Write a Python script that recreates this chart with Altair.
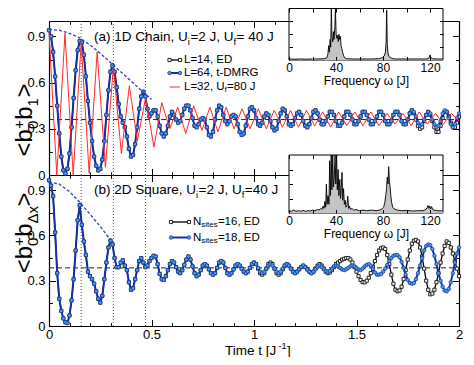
import altair as alt
import numpy as np
import pandas as pd

W, H = 458, 349
FONT = "Liberation Sans"
DT = 0.01

# ---------------- data ----------------
# panel (a) L=64 t-DMRG, sampled every 0.01 J^-1
blue_a = [
    0.94, 0.90, 0.80, 0.64, 0.45, 0.27, 0.12, 0.03, 0.01, 0.04,
    0.14, 0.31, 0.50, 0.68, 0.81, 0.87, 0.86, 0.78, 0.64, 0.48,
    0.34, 0.22, 0.12, 0.06, 0.03, 0.04, 0.10, 0.22, 0.39, 0.55,
    0.67, 0.71, 0.67, 0.57, 0.46, 0.38, 0.34, 0.31, 0.25, 0.17,
    0.12, 0.13, 0.20, 0.31, 0.43, 0.51, 0.54, 0.51, 0.43, 0.38,
    0.40, 0.42, 0.42, 0.38, 0.32, 0.27, 0.25, 0.27, 0.32, 0.38,
    0.41, 0.39, 0.36, 0.34, 0.35, 0.39, 0.43, 0.45, 0.45, 0.42,
    0.37, 0.32, 0.31, 0.33, 0.36, 0.37, 0.36, 0.31, 0.26, 0.25,
    0.28, 0.36, 0.42, 0.45, 0.44, 0.39, 0.35, 0.33, 0.35, 0.38,
    0.39, 0.38, 0.33, 0.28, 0.26, 0.27, 0.32, 0.38, 0.43, 0.44,
    0.42, 0.37, 0.33, 0.32, 0.34, 0.38, 0.40, 0.39, 0.35, 0.31,
    0.29, 0.30, 0.35, 0.40, 0.43, 0.42, 0.38, 0.33, 0.32, 0.33,
    0.37, 0.40, 0.41, 0.39, 0.35, 0.32, 0.31, 0.33, 0.37, 0.41,
    0.42, 0.40, 0.36, 0.33, 0.33, 0.35, 0.38, 0.41, 0.41, 0.39,
    0.35, 0.32, 0.32, 0.34, 0.38, 0.41, 0.41, 0.39, 0.36, 0.33,
    0.33, 0.35, 0.38, 0.41, 0.41, 0.39, 0.36, 0.33, 0.33, 0.35,
    0.38, 0.41, 0.41, 0.39, 0.35, 0.33, 0.33, 0.35, 0.39, 0.41,
    0.41, 0.39, 0.35, 0.33, 0.33, 0.36, 0.40, 0.42, 0.41, 0.38,
    0.34, 0.32, 0.33, 0.36, 0.39, 0.41, 0.40, 0.36, 0.33, 0.31,
    0.32, 0.35, 0.40, 0.42, 0.41, 0.37, 0.33, 0.31, 0.33, 0.37,
    0.40,
]
# panel (a) L=14 ED: same as DMRG up to t=1.75, then these values (t=1.76..2.00)
black_a_tail = [
    0.40, 0.42, 0.40, 0.36, 0.32, 0.30, 0.31, 0.35, 0.39, 0.41,
    0.39, 0.35, 0.31, 0.28, 0.28, 0.32, 0.37, 0.41, 0.41, 0.38,
    0.34, 0.31, 0.31, 0.34, 0.38,
]
# panel (a) L=32, U_f=80 J (turning points)
red_t = [0.000, 0.038, 0.078, 0.118, 0.157, 0.196, 0.235, 0.275, 0.314, 0.353,
         0.392, 0.431, 0.471, 0.512, 0.550, 0.589, 0.628, 0.667, 0.706, 0.746,
         0.785, 0.824, 0.864, 0.903, 0.942, 0.981, 1.021, 1.060, 1.099, 1.139,
         1.178, 1.217, 1.256, 1.296, 1.335, 1.374, 1.413, 1.453, 1.492, 1.531,
         1.570, 1.610, 1.649, 1.688, 1.727, 1.767, 1.806, 1.845, 1.885, 1.924,
         1.963, 2.000]
red_v = [0.93, 0.00, 0.92, 0.00, 0.86, 0.01, 0.80, 0.05, 0.70, 0.14,
         0.58, 0.22, 0.50, 0.18, 0.47, 0.30, 0.44, 0.27, 0.45, 0.29,
         0.44, 0.28, 0.44, 0.30, 0.43, 0.30, 0.43, 0.30, 0.42, 0.31,
         0.42, 0.31, 0.42, 0.32, 0.41, 0.31, 0.41, 0.32, 0.41, 0.32,
         0.41, 0.32, 0.40, 0.33, 0.40, 0.32, 0.41, 0.33, 0.40, 0.33,
         0.40, 0.35]
# panel (b) N_sites=18 ED, every 0.01
blue_b = [
    0.965, 0.93, 0.86, 0.62, 0.35, 0.18, 0.10, 0.05, 0.025, 0.02,
    0.07, 0.17, 0.31, 0.50, 0.70, 0.80, 0.67, 0.56, 0.47, 0.36,
    0.33, 0.31, 0.28, 0.23, 0.18, 0.155, 0.20, 0.31, 0.42, 0.52,
    0.565, 0.54, 0.45, 0.39, 0.39, 0.42, 0.435, 0.40, 0.37, 0.29,
    0.24, 0.25, 0.31, 0.37, 0.43, 0.45, 0.42, 0.39, 0.40, 0.43,
    0.45, 0.465, 0.46, 0.41, 0.345, 0.31, 0.305, 0.33, 0.37, 0.41,
    0.43, 0.42, 0.39, 0.36, 0.35, 0.37, 0.405, 0.44, 0.46, 0.44,
    0.395, 0.35, 0.33, 0.34, 0.37, 0.40, 0.41, 0.40, 0.375, 0.35,
    0.34, 0.35, 0.385, 0.42, 0.43, 0.42, 0.385, 0.35, 0.34, 0.35,
    0.375, 0.40, 0.41, 0.40, 0.38, 0.36, 0.35, 0.36, 0.385, 0.41,
    0.42, 0.41, 0.385, 0.36, 0.35, 0.36, 0.38, 0.40, 0.41, 0.40,
    0.38, 0.36, 0.35, 0.36, 0.38, 0.40, 0.41, 0.40, 0.38, 0.36,
    0.35, 0.36, 0.375, 0.39, 0.40, 0.39, 0.375, 0.36, 0.35, 0.36,
    0.375, 0.39, 0.40, 0.39, 0.38, 0.365, 0.36, 0.365, 0.38, 0.395,
    0.40, 0.395, 0.385, 0.375, 0.37, 0.375, 0.385, 0.395, 0.40, 0.395,
    0.385, 0.375, 0.37, 0.38, 0.395, 0.405, 0.41, 0.40, 0.38, 0.355,
    0.34, 0.34, 0.345, 0.36, 0.38, 0.405, 0.43, 0.45, 0.465, 0.47,
    0.47, 0.455, 0.425, 0.385, 0.34, 0.305, 0.285, 0.28, 0.285, 0.31,
    0.35, 0.40, 0.45, 0.50, 0.53, 0.54, 0.535, 0.51, 0.465, 0.41,
    0.35, 0.30, 0.26, 0.235, 0.23, 0.245, 0.29, 0.35, 0.42, 0.48,
    0.52,
]
# panel (b) N_sites=16 ED: same as 18 up to t=0.99, then these (t=1.00..2.00)
black_b_tail = [
    0.42, 0.41, 0.38, 0.35, 0.34, 0.35, 0.38, 0.41, 0.42, 0.41,
    0.38, 0.35, 0.34, 0.35, 0.375, 0.40, 0.41, 0.40, 0.38, 0.36,
    0.35, 0.36, 0.375, 0.39, 0.40, 0.39, 0.375, 0.36, 0.35, 0.36,
    0.38, 0.40, 0.41, 0.40, 0.38, 0.36, 0.35, 0.355, 0.37, 0.39,
    0.41, 0.42, 0.43, 0.44, 0.445, 0.45, 0.45, 0.44, 0.42, 0.39,
    0.36, 0.33, 0.305, 0.29, 0.29, 0.30, 0.32, 0.35, 0.39, 0.43,
    0.47, 0.50, 0.515, 0.52, 0.51, 0.47, 0.41, 0.34, 0.28, 0.24,
    0.23, 0.235, 0.26, 0.31, 0.37, 0.44, 0.50, 0.545, 0.565, 0.57,
    0.56, 0.52, 0.46, 0.38, 0.30, 0.24, 0.21, 0.215, 0.24, 0.29,
    0.35, 0.42, 0.48, 0.53, 0.56, 0.55, 0.52, 0.48, 0.43, 0.38,
    0.33,
]
env_a_t = [0, 0.05, 0.10, 0.15, 0.20, 0.25, 0.30, 0.35, 0.40, 0.45, 0.50]
env_a_v = [0.945, 0.94, 0.92, 0.89, 0.845, 0.79, 0.73, 0.67, 0.61, 0.55, 0.49]
env_b_t = [0, 0.05, 0.10, 0.15, 0.20, 0.25, 0.30]
env_b_v = [0.955, 0.94, 0.89, 0.82, 0.74, 0.66, 0.57]
vline_t = [0.157, 0.314, 0.471]
hline_a = 0.36
hline_b = 0.385

# inset spectra (frequency, amplitude in units of inset height)
specA_w = [0, 5, 10, 15, 20, 25, 30, 32, 33, 33.8, 34.3, 35, 35.5, 36, 36.6, 37.2,
           37.8, 38.3, 39, 39.5, 40.1, 40.7, 41.3, 41.9, 42.5, 43.1, 43.7, 44.3,
           45, 45.7, 46.5, 47.5, 49, 55, 60, 70, 76, 79, 81, 82, 82.6, 83.1, 83.6,
           84.2, 85, 87, 90, 100, 110, 117, 119, 120, 120.6, 122, 126, 131]
specA_a = [0.02, 0.015, 0.02, 0.015, 0.02, 0.02, 0.025, 0.04, 0.10, 0.28, 0.15, 0.40,
           0.25, 1.4, 0.45, 0.35, 0.55, 0.40, 0.65, 1.4, 0.50, 0.42, 0.48, 0.36,
           0.50, 0.40, 0.46, 0.28, 0.22, 0.14, 0.08, 0.04, 0.025, 0.02, 0.02, 0.02,
           0.025, 0.04, 0.08, 0.15, 0.35, 0.97, 0.30, 0.14, 0.07, 0.035, 0.02, 0.02,
           0.02, 0.02, 0.04, 0.10, 0.05, 0.025, 0.02, 0.02]
specB_w = [0, 2, 4, 6, 8, 10, 12, 14, 16, 18, 20, 22, 24, 25.5, 27, 28, 29, 29.8,
           30.5, 31.2, 31.8, 32.4, 33.2, 34, 34.6, 35.2, 35.9, 36.5, 37.2, 37.8,
           38.5, 39.2, 39.8, 40.5, 41.1, 41.8, 42.4, 43.2, 43.8, 44.5, 45.1, 45.7,
           46.4, 47.1, 47.8, 48.4, 49.2, 50, 50.7, 51.5, 52.3, 53.5, 55, 57, 60,
           63, 66, 70, 74, 77, 79, 80.5, 81.5, 82.3, 83, 83.6, 84.2, 84.8, 85.4,
           86, 86.6, 87.3, 88.2, 89.5, 92, 96, 100, 105, 110, 114, 116.5, 117.5,
           118.3, 119, 119.7, 120.5, 121.3, 122.2, 123.5, 126, 131]
specB_a = [0.04, 0.03, 0.05, 0.03, 0.04, 0.03, 0.045, 0.03, 0.04, 0.035, 0.05, 0.04,
           0.06, 0.05, 0.08, 0.06, 0.12, 0.08, 0.20, 0.10, 0.50, 0.15, 0.30, 0.15,
           0.90, 0.30, 1.4, 0.40, 1.4, 0.45, 0.60, 1.4, 0.50, 1.2, 0.40, 0.75,
           0.30, 0.58, 0.25, 0.45, 0.70, 0.22, 0.42, 0.15, 0.22, 0.10, 0.12, 0.29,
           0.08, 0.12, 0.06, 0.08, 0.05, 0.06, 0.04, 0.05, 0.04, 0.05, 0.04, 0.05,
           0.07, 0.10, 0.18, 0.30, 0.42, 0.62, 0.50, 0.80, 0.55, 0.45, 0.30, 0.18,
           0.10, 0.07, 0.05, 0.04, 0.045, 0.035, 0.04, 0.04, 0.06, 0.09, 0.13,
           0.08, 0.12, 0.07, 0.11, 0.06, 0.05, 0.04, 0.035]

x_major = [0, 0.5, 1, 1.5, 2]
x_minor = [0.1, 0.2, 0.3, 0.4, 0.6, 0.7, 0.8, 0.9, 1.1, 1.2, 1.3, 1.4,
           1.6, 1.7, 1.8, 1.9]
y_major = [0, 0.3, 0.6, 0.9]
y_minor = [0.15, 0.45, 0.75]
w_labels = [0, 40, 80, 120]
w_ticks = [0, 20, 40, 60, 80, 100, 120]
a_ticks = [0.25, 0.5, 0.75]

# ---------------- layout (pixel ranges in the canvas) ----------------
XM_R = [41, 451]
YA_R = [167, 13]
YB_R = [318, 167]
XI_R = [281, 435]
YIA_R = [52, 0.5]
YIB_R = [205, 147]


def S(dom, rng, clamp=False):
    return alt.Scale(domain=dom, range=rng, nice=False, zero=False, clamp=clamp)


def XM(): return S([0, 2], XM_R)
def YA(): return S([0, 1], YA_R)
def YB(): return S([0, 1], YB_R)
def XI(): return S([0, 131], XI_R)
def YIA(): return S([0, 1], YIA_R, True)
def YIB(): return S([0, 1], YIB_R, True)


dummy = pd.DataFrame({"v": [0.0]})


def ax(orient, offset, values, size=0, labels=False, domain=False, z=0, **kw):
    d = dict(orient=orient, offset=offset, values=values, grid=False,
             domain=domain, domainColor="black", domainWidth=1.2,
             ticks=size > 0, labels=labels, title="", zindex=z,
             labelFont=FONT, labelColor="black", labelFlush=False,
             labelOverlap=False)
    if size > 0:
        d.update(tickSize=size, tickColor="black", tickWidth=1)
    d.update(kw)
    return alt.Axis(**d)


def axl(xs, ys, xaxis=None, yaxis=None):
    return alt.Chart(dummy).mark_point(opacity=0).encode(
        x=alt.X("v:Q", scale=xs, axis=xaxis),
        y=alt.Y("v:Q", scale=ys, axis=yaxis))


layers = []
XB = XM_R[1]
XL = XM_R[0]
YBOT = YB_R[0]
YMID = YA_R[0]
YTOP = YA_R[1]

# main x axes
layers.append(axl(XM(), YB(), ax("bottom", -(H - YBOT), x_major, labels=True,
                                 labelFontSize=13, labelPadding=2, format="~g")))
for yy, up, dom in [(YBOT, True, True), (YMID, True, True), (YMID, False, False), (YTOP, False, True)]:
    orient = "top" if up else "bottom"
    off = -yy if up else -(H - yy)
    layers.append(axl(XM(), YA(), ax(orient, off, x_major, size=6.5, domain=dom)))
    layers.append(axl(XM(), YA(), ax(orient, off, x_minor, size=3.3)))

# main y axes
lab_expr = "datum.value == 0 ? '0' : format(datum.value, '.1f')"
for ysf in (YA, YB):
    layers.append(axl(XM(), ysf(), None, ax("left", -XL, y_major, labels=True, labelFontSize=13,
                                            labelPadding=4, labelExpr=lab_expr)))
    layers.append(axl(XM(), ysf(), None, ax("right", -(W - XL), y_major, size=6.5, domain=True)))
    layers.append(axl(XM(), ysf(), None, ax("right", -(W - XL), y_minor, size=3.3)))
    layers.append(axl(XM(), ysf(), None, ax("left", -XB, y_major, size=6.5, domain=True)))
    layers.append(axl(XM(), ysf(), None, ax("left", -XB, y_minor, size=3.3)))

# reference lines
for ysf, hv in ((YA, hline_a), (YB, hline_b)):
    vdf = pd.DataFrame({"t": vline_t, "lo": 0.0, "hi": 1.0})
    layers.append(alt.Chart(vdf).mark_rule(color="#555", strokeDash=[1, 2], strokeWidth=1).encode(
        x=alt.X("t:Q", scale=XM(), axis=None), y=alt.Y("lo:Q", scale=ysf(), axis=None),
        y2=alt.Y2("hi")))
    hdf = pd.DataFrame({"v": [hv], "t0": [0.0], "t1": [2.0]})
    layers.append(alt.Chart(hdf).mark_rule(color="#222", strokeDash=[5, 3], strokeWidth=1).encode(
        x=alt.X("t0:Q", scale=XM(), axis=None), x2=alt.X2("t1"),
        y=alt.Y("v:Q", scale=ysf(), axis=None)))


def series_df(vals):
    return pd.DataFrame({"t": np.round(np.arange(len(vals)) * DT, 4), "v": vals})


def line(df, ys, **mk):
    return alt.Chart(df).mark_line(**mk).encode(
        x=alt.X("t:Q", scale=XM(), axis=None), y=alt.Y("v:Q", scale=ys, axis=None))


def pts(df, ys, **mk):
    return alt.Chart(df).mark_point(opacity=1, filled=True, **mk).encode(
        x=alt.X("t:Q", scale=XM(), axis=None), y=alt.Y("v:Q", scale=ys, axis=None))


BLUE_LINE = "#1530a0"
BLUE_FILL = "#45a3f2"
BLUE_EDGE = "#1a3aa0"
SQ = dict(shape="square", fill="white", stroke="#222", strokeWidth=1, size=10)
CI = dict(shape="circle", fill=BLUE_FILL, stroke=BLUE_EDGE, strokeWidth=0.8, size=12)

black_a = blue_a[:176] + black_a_tail
black_b = blue_b[:100] + black_b_tail

for ysf, bl, bk, et, ev in ((YA, blue_a, black_a, env_a_t, env_a_v),
                            (YB, blue_b, black_b, env_b_t, env_b_v)):
    dk = series_df(bk)
    db = series_df(bl)
    layers.append(line(dk, ysf(), color="black", strokeWidth=1.3))
    layers.append(pts(dk, ysf(), **SQ))
    layers.append(line(db, ysf(), color=BLUE_LINE, strokeWidth=2))
    layers.append(pts(db, ysf(), **CI))
    edf = pd.DataFrame({"t": et, "v": ev})
    layers.append(line(edf, ysf(), color="#2b3bd6", strokeDash=[3, 2], strokeWidth=1.3))
    if ysf is YA:
        rdf = pd.DataFrame({"t": red_t, "v": red_v})
        layers.append(line(rdf, ysf(), color="#ff2a2a", strokeWidth=1))


# ---------------- text ----------------
def T(s, x, y, size, angle=0, baseline="alphabetic", align="left"):
    kw = dict(text=s, font=FONT, fontSize=size, color="black", align=align, baseline=baseline)
    if angle:
        kw["angle"] = angle
    return alt.Chart(dummy).mark_text(**kw).encode(x=alt.value(x), y=alt.value(y))


# panel titles
TX = 86
layers += [T("(a) 1D Chain, U", TX, 33, 13.5), T("i", TX + 93.8, 36.5, 9.5),
           T("=2 J, U", TX + 96.4, 33, 13.5), T("f", TX + 139.5, 36.5, 9.5),
           T("= 40 J", TX + 142.6, 33, 13.5)]
layers += [T("(b) 2D Square, U", TX, 186, 13.5), T("i", TX + 102, 189.5, 9.5),
           T("=2 J, U", TX + 104.6, 186, 13.5), T("f", TX + 147.7, 189.5, 9.5),
           T("=40 J", TX + 150.8, 186, 13.5)]


def leg_rule(x1, x2, y, color, width):
    return alt.Chart(dummy).mark_rule(color=color, strokeWidth=width).encode(
        x=alt.value(x1), x2=alt.value(x2), y=alt.value(y))


def leg_pt(x, y, style):
    return alt.Chart(dummy).mark_point(opacity=1, filled=True, **style).encode(
        x=alt.value(x), y=alt.value(y))


# legend (a)
lx1, lx2, ltx = 161.5, 172, 176
for yy, kind in ((52, "sq"), (65, "ci"), (79, "red")):
    if kind == "sq":
        layers += [leg_rule(lx1, lx2, yy, "black", 1.3), leg_pt(lx1, yy, SQ), leg_pt(lx2, yy, SQ)]
    elif kind == "ci":
        layers += [leg_rule(lx1, lx2, yy, BLUE_LINE, 2), leg_pt(lx1, yy, CI), leg_pt(lx2, yy, CI)]
    else:
        layers += [leg_rule(lx1, lx2, yy, "#ff2a2a", 1)]
layers += [T("L=14, ED", ltx, 52, 11.5, baseline="middle"),
           T("L=64, t-DMRG", ltx, 65, 11.5, baseline="middle"),
           T("L=32, U", ltx, 79, 11.5, baseline="middle"),
           T("f", ltx + 40.6, 82, 8, baseline="middle"),
           T("=80 J", ltx + 43.1, 79, 11.5, baseline="middle")]

# legend (b)
bx1, bx2, btx = 163, 181, 185
for yy, style, col, wd, num in ((214, SQ, "black", 1.3, "16"), (229.5, CI, BLUE_LINE, 2, "18")):
    layers += [leg_rule(bx1, bx2, yy, col, wd), leg_pt(bx1, yy, style), leg_pt(bx2, yy, style)]
    layers += [T("N", btx, yy, 11.5, baseline="middle"),
               T("sites", btx + 8.3, yy + 3, 8, baseline="middle"),
               T("=" + num + ", ED", btx + 24.9, yy, 11.5, baseline="middle")]

# y titles (rotated)
BXT = 24
layers += [T("<", BXT, 148.4, 24, 270), T("b", BXT, 134.4, 24, 270),
           T("+", BXT - 8, 121.1, 15, 270), T("0", BXT + 6, 121.1, 15, 270),
           T("b", BXT, 111.8, 24, 270), T("1", BXT + 6, 98.5, 15, 270),
           T(">", BXT, 89.6, 24, 270)]
layers += [T("<", BXT, 265.3, 24, 270), T("b", BXT, 251.3, 24, 270),
           T("+", BXT - 8, 238, 15, 270), T("0", BXT + 6, 238, 15, 270),
           T("b", BXT, 228.7, 24, 270), T("\u0394x", BXT + 6, 215.4, 15, 270),
           T(">", BXT, 198.5, 24, 270)]

# x title
layers += [T("Time t [J", 217, 346.5, 13.5), T("-1", 270.5, 341, 9), T("]", 279, 346.5, 13.5)]

# ---------------- insets ----------------
for ysf, spw, spa, ybot, ytop in ((YIA, specA_w, specA_a, YIA_R[0], YIA_R[1]),
                                  (YIB, specB_w, specB_a, YIB_R[0], YIB_R[1])):
    fdf = pd.DataFrame({"w0": [0.0], "w1": [131.0], "a0": [0.0], "a1": [1.0]})
    layers.append(alt.Chart(fdf).mark_rect(fill="white", stroke="black", strokeWidth=1).encode(
        x=alt.X("w0:Q", scale=XI(), axis=None), x2=alt.X2("w1"),
        y=alt.Y("a0:Q", scale=ysf(), axis=None), y2=alt.Y2("a1")))
    sdf = pd.DataFrame({"w": spw, "a": spa})
    layers.append(alt.Chart(sdf).mark_area(color="#c4c4c4").encode(
        x=alt.X("w:Q", scale=XI(), axis=None), y=alt.Y("a:Q", scale=ysf(), axis=None)))
    layers.append(alt.Chart(sdf).mark_line(color="black", strokeWidth=0.9).encode(
        x=alt.X("w:Q", scale=XI(), axis=None), y=alt.Y("a:Q", scale=ysf(), axis=None)))
    layers.append(axl(XI(), ysf(), ax("bottom", -(H - ybot), w_labels, labels=True, z=1,
                                      labelFontSize=12, labelPadding=2,
                                      title="Frequency \u03c9 [J]", titleFont=FONT,
                                      titleFontSize=12, titleFontWeight="normal",
                                      titlePadding=2, titleColor="black")))
    layers.append(axl(XI(), ysf(), ax("top", -ybot, w_ticks, size=3.5, z=1),
                      ax("right", -(W - XI_R[0]), a_ticks, size=3.5, z=1)))
    layers.append(axl(XI(), ysf(), ax("bottom", -(H - ytop), w_ticks, size=3.5, z=1),
                      ax("left", -XI_R[1], a_ticks, size=3.5, z=1)))

chart = alt.layer(*layers).resolve_scale(
    x="independent", y="independent"
).resolve_axis(
    x="independent", y="independent"
).properties(
    width=W, height=H, padding=0, background="white",
    autosize=alt.AutoSizeParams(type="none")
).configure_view(strokeWidth=0)

chart.save("out.html", embed_options={"renderer": "svg", "actions": False})
